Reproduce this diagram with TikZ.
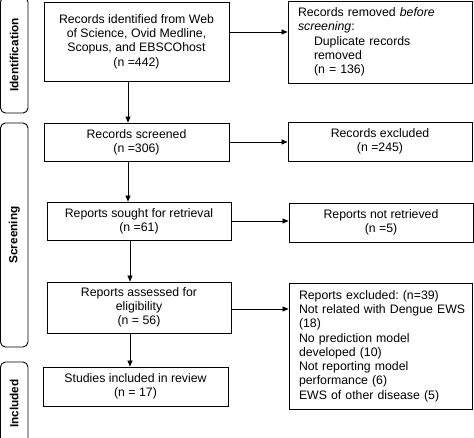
\documentclass[tikz,border=0pt]{standalone}
\usepackage{fontspec}
\setmainfont{Liberation Sans}
\usetikzlibrary{arrows.meta}
\begin{document}
\begin{tikzpicture}[x=1pt,y=-1pt,
  box/.style={draw=black, line width=0.9pt, inner sep=0pt, align=center, font=\frenchspacing\fontsize{12.3}{14.3}\selectfont},
  lbox/.style={box, align=left, inner xsep=10pt},
  side/.style={draw=black, line width=0.9pt, rounded corners=5pt, rotate=90, inner sep=0pt, font=\bfseries\fontsize{11.8}{14}\selectfont},
  arr/.style={-{Triangle[length=6pt,width=5pt]}, line width=0.7pt}]
\useasboundingbox (0,0) rectangle (474,438);
% side labels
\node[side, minimum width=116pt, minimum height=27.5pt] (s1) at (14.25,55) {Identification};
\node[side, minimum width=224pt, minimum height=27.5pt] (s2) at (14.25,235) {Screening};
\node[side, minimum width=83pt, minimum height=27.5pt] (s3) at (14.25,403.5) {Included};
% boxes
\node[box, minimum width=185pt, minimum height=79pt] (b1) at (136.5,41.5) {Records identified from Web\\of Science, Ovid Medline,\\Scopus, and EBSCOhost\\(n =442)};
\node[lbox, minimum width=184pt, minimum height=82pt, text width=164pt] (b2) at (380,42) {Records removed \textit{before}\\\textit{screening}:\\\hspace*{16pt}Duplicate records\\\hspace*{16pt}removed\\\hspace*{16pt}(n = 136)};
\node[box, minimum width=185pt, minimum height=38pt] (b3) at (136.5,142) {Records screened\\(n =306)};
\node[box, minimum width=184pt, minimum height=39pt] (b4) at (380,141.5) {Records excluded\\(n =245)};
\node[box, minimum width=184pt, minimum height=38pt] (b5) at (139,221) {Reports sought for retrieval\\(n =61)};
\node[box, minimum width=184pt, minimum height=39pt] (b6) at (381,222.5) {Reports not retrieved\\(n =5)};
\node[box, minimum width=184pt, minimum height=51pt] (b7) at (139,307.5) {Reports assessed for\\eligibility\\(n = 56)};
\node[lbox, minimum width=183pt, minimum height=126pt, text width=163pt] (b8) at (380.5,346) {Reports excluded: (n=39)\\\mbox{Not related with Dengue EWS}\\(18)\\No prediction model\\developed (10)\\Not reporting model\\performance (6)\\EWS of other disease (5)};
\node[box, minimum width=185pt, minimum height=39pt] (b9) at (135.5,386.5) {Studies included in review\\(n = 17)};
% connectors
\coordinate (c1) at (128,0);
\coordinate (c2) at (130,0);
\coordinate (h1) at (0,32);
\coordinate (h4) at (0,309);
\draw[arr] (b1.south -| c1) -- (b3.north -| c1);
\draw[arr] (b3.south -| c1) -- (b5.north -| c1);
\draw[arr] (b5.south -| c2) -- (b7.north -| c2);
\draw[arr] (b7.south -| c2) -- (b9.north -| c2);
\draw[arr] (b1.east |- h1) -- (b2.west |- h1);
\draw[arr] (b3.east) -- (b3.east -| b4.west);
\draw[arr] (b5.east) -- (b5.east -| b6.west);
\draw[arr] (b7.east |- h4) -- (b8.west |- h4);
\end{tikzpicture}
\end{document}
